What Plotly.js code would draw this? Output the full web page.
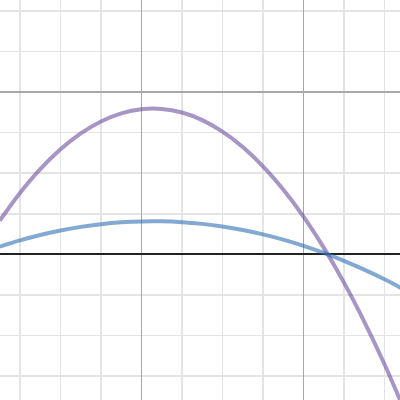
<html>
<head>
    <meta charset="UTF-8">
    <script src="https://cdn.plot.ly/plotly-3.0.1.min.js"></script>
    <style>
        body { margin: 0; background: white; }
        #plot { width: 400px; height: 400px; }
    </style>
</head>
<body>
    <div id="plot"></div>

    <script>
        // sample positions and the values
        const xs = [-3.5, -3, -2.5, -2, -1.5, -1, -0.5, 0, 0.5, 1, 1.5, 2, 2.5, 3, 3.5, 4, 4.5, 5, 5.5, 6, 6.5];
        const purpleY = [0.831, 1.513, 2.098, 2.586, 2.978, 3.274, 3.473, 3.576, 3.583, 3.493, 3.307, 3.024,
            2.645, 2.170, 1.598, 0.930, 0.165, -0.696, -1.654, -2.707, -3.858];
        const blueY = [0.189, 0.344, 0.477, 0.588, 0.677, 0.744, 0.789, 0.812, 0.814, 0.794, 0.751, 0.687,
            0.601, 0.493, 0.363, 0.211, 0.0375, -0.158, -0.376, -0.615, -0.876];

        const purple = {
            x: xs,
            y: purpleY,
            type: 'scatter',
            mode: 'lines',
            line: { color: '#6a4e9e', width: 4, shape: 'spline' },
            opacity: 0.6,
            hoverinfo: 'skip'
        }

        const blue = {
            x: xs,
            y: blueY,
            type: 'scatter',
            mode: 'lines',
            line: { color: '#2d70b3', width: 4, shape: 'spline' },
            opacity: 0.6,
            hoverinfo: 'skip'
        }

        const axisBase = {
            showticklabels: false,
            ticks: '',
            showline: false,
            tick0: 0,
            dtick: 4,
            gridcolor: '#a8a8a8',
            gridwidth: 1.6,
            minor: { dtick: 1, showgrid: true, gridcolor: '#e4e4e4', gridwidth: 1.6 }
        }

        const layout = {
            width: 400,
            height: 400,
            margin: { l: 0, r: 0, t: 0, b: 0 },
            paper_bgcolor: 'white',
            plot_bgcolor: 'white',
            showlegend: false,
            xaxis: Object.assign({}, axisBase, {
                range: [-3.494, 6.383],
                zeroline: false
            }),
            yaxis: Object.assign({}, axisBase, {
                range: [-3.587, 6.265],
                zeroline: true,
                zerolinecolor: '#222222',
                zerolinewidth: 2
            })
        }

        Plotly.newPlot('plot', [purple, blue], layout, { staticPlot: true });
    </script>
</body>
</html>
